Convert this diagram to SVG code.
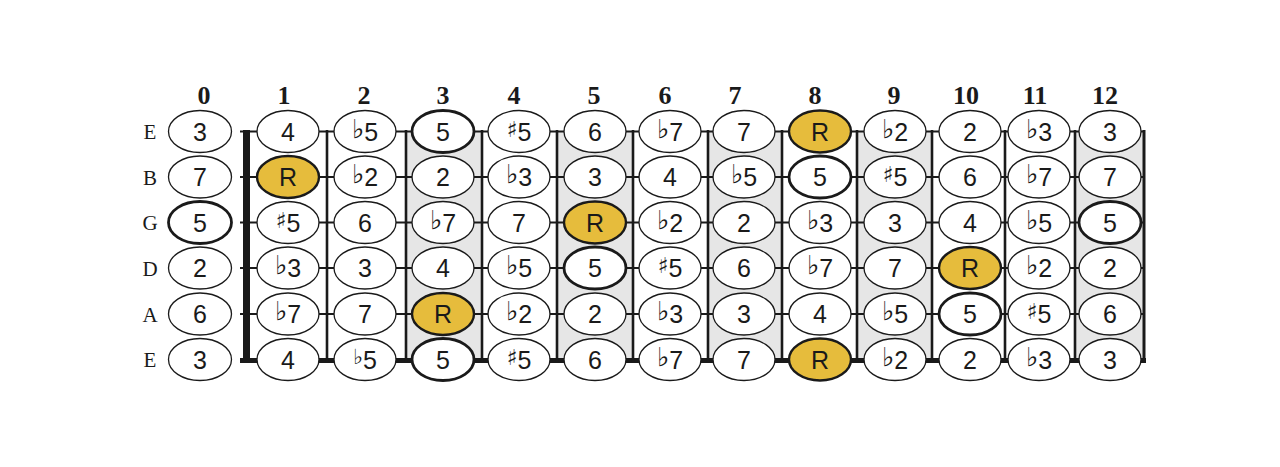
<svg xmlns="http://www.w3.org/2000/svg" width="1280" height="467" viewBox="0 0 1280 467">
<style>
.shade{fill:#e6e6e6}
.fret{stroke:#1a1a1a;stroke-width:2.6}
.str{stroke:#1a1a1a;stroke-width:2}
.n{fill:#fff;stroke:#1a1a1a;stroke-width:1.3}
.b{fill:#fff;stroke:#1a1a1a;stroke-width:2.8}
.r{fill:#e6bc3c;stroke:#1a1a1a;stroke-width:2.4}
.t{font-family:"Liberation Sans",Arial,sans-serif;font-size:25px;fill:#1a1a1a;text-anchor:middle}
.fl{font-family:"DejaVu Sans",sans-serif;font-size:26px}
.sh{font-family:"DejaVu Sans",sans-serif;font-size:22px}
.fn{font-family:"Liberation Serif","Times New Roman",serif;font-weight:bold;font-size:26px;fill:#1a1a1a;text-anchor:middle}
.sl{font-family:"Liberation Serif","Times New Roman",serif;font-size:21px;fill:#1a1a1a;text-anchor:middle}
</style>
<rect width="1280" height="467" fill="#fff"/>
<g id="shading">
<rect class="shade" x="406" y="131" width="76" height="229"/>
<rect class="shade" x="557" y="131" width="76" height="229"/>
<rect class="shade" x="708" y="131" width="74" height="229"/>
<rect class="shade" x="857" y="131" width="75" height="229"/>
<rect class="shade" x="1075" y="131" width="69" height="229"/>
</g>
<g id="connectors">
<line class="str" x1="240" y1="131.5" x2="1144" y2="131.5"/>
<line class="str" x1="240" y1="177" x2="1144" y2="177"/>
<line class="str" x1="240" y1="222.5" x2="1144" y2="222.5"/>
<line class="str" x1="240" y1="268" x2="1144" y2="268"/>
<line class="str" x1="240" y1="314" x2="1144" y2="314"/>
<line class="str" x1="240" y1="360.5" x2="1146" y2="360.5" style="stroke-width:5"/>
<line x1="246.5" y1="130" x2="246.5" y2="363" stroke="#1a1a1a" stroke-width="7"/>
<line class="fret" x1="327" y1="130" x2="327" y2="362"/>
<line class="fret" x1="406" y1="130" x2="406" y2="362"/>
<line class="fret" x1="482" y1="130" x2="482" y2="362"/>
<line class="fret" x1="557" y1="130" x2="557" y2="362"/>
<line class="fret" x1="633" y1="130" x2="633" y2="362"/>
<line class="fret" x1="708" y1="130" x2="708" y2="362"/>
<line class="fret" x1="782" y1="130" x2="782" y2="362"/>
<line class="fret" x1="857" y1="130" x2="857" y2="362"/>
<line class="fret" x1="932" y1="130" x2="932" y2="362"/>
<line class="fret" x1="1005" y1="130" x2="1005" y2="362"/>
<line class="fret" x1="1075" y1="130" x2="1075" y2="362"/>
<line class="fret" x1="1144" y1="130" x2="1144" y2="362" style="stroke-width:3"/>
</g>
<g id="fret-numbers">
<text class="fn" x="204" y="104">0</text>
<text class="fn" x="284" y="104">1</text>
<text class="fn" x="364" y="104">2</text>
<text class="fn" x="443" y="104">3</text>
<text class="fn" x="514" y="104">4</text>
<text class="fn" x="594" y="104">5</text>
<text class="fn" x="665" y="104">6</text>
<text class="fn" x="735" y="104">7</text>
<text class="fn" x="815" y="104">8</text>
<text class="fn" x="894" y="104">9</text>
<text class="fn" x="966" y="104">10</text>
<text class="fn" x="1035" y="104">11</text>
<text class="fn" x="1105" y="104">12</text>
</g>
<g id="string-labels">
<text class="sl" x="150" y="139">E</text>
<text class="sl" x="150" y="184.5">B</text>
<text class="sl" x="150" y="230">G</text>
<text class="sl" x="150" y="275.5">D</text>
<text class="sl" x="150" y="321.5">A</text>
<text class="sl" x="150" y="367">E</text>
</g>
<!-- Row 1: high E, y=131.5 -->
<g id="e1-f0"><ellipse class="n" cx="200" cy="131.5" rx="31.5" ry="21"/><text class="t" x="200" y="140.5">3</text></g>
<g id="e1-f1"><ellipse class="n" cx="288" cy="131.5" rx="31" ry="21"/><text class="t" x="288" y="140.5">4</text></g>
<g id="e1-f2"><ellipse class="n" cx="365" cy="131.5" rx="31" ry="21"/><text class="t" x="365" y="140.5"><tspan class="fl" dy="-3">♭</tspan><tspan dy="3">5</tspan></text></g>
<g id="e1-f3"><ellipse class="b" cx="443" cy="131.5" rx="31" ry="21"/><text class="t" x="443" y="140.5">5</text></g>
<g id="e1-f4"><ellipse class="n" cx="519" cy="131.5" rx="31" ry="21"/><text class="t" x="519" y="140.5"><tspan class="sh" dy="-4">♯</tspan><tspan dy="4">5</tspan></text></g>
<g id="e1-f5"><ellipse class="n" cx="595" cy="131.5" rx="31" ry="21"/><text class="t" x="595" y="140.5">6</text></g>
<g id="e1-f6"><ellipse class="n" cx="670" cy="131.5" rx="31" ry="21"/><text class="t" x="670" y="140.5"><tspan class="fl" dy="-3">♭</tspan><tspan dy="3">7</tspan></text></g>
<g id="e1-f7"><ellipse class="n" cx="744" cy="131.5" rx="31" ry="21"/><text class="t" x="744" y="140.5">7</text></g>
<g id="e1-f8"><ellipse class="r" cx="820" cy="131.5" rx="31" ry="21"/><text class="t" x="820" y="140.5">R</text></g>
<g id="e1-f9"><ellipse class="n" cx="895" cy="131.5" rx="31" ry="21"/><text class="t" x="895" y="140.5"><tspan class="fl" dy="-3">♭</tspan><tspan dy="3">2</tspan></text></g>
<g id="e1-f10"><ellipse class="n" cx="970" cy="131.5" rx="31" ry="21"/><text class="t" x="970" y="140.5">2</text></g>
<g id="e1-f11"><ellipse class="n" cx="1039" cy="131.5" rx="31" ry="21"/><text class="t" x="1039" y="140.5"><tspan class="fl" dy="-3">♭</tspan><tspan dy="3">3</tspan></text></g>
<g id="e1-f12"><ellipse class="n" cx="1110" cy="131.5" rx="31" ry="21"/><text class="t" x="1110" y="140.5">3</text></g>
<!-- Row 2: B, y=177 -->
<g id="b-f0"><ellipse class="n" cx="200" cy="177" rx="31.5" ry="21"/><text class="t" x="200" y="186">7</text></g>
<g id="b-f1"><ellipse class="r" cx="288" cy="177" rx="31" ry="21"/><text class="t" x="288" y="186">R</text></g>
<g id="b-f2"><ellipse class="n" cx="365" cy="177" rx="31" ry="21"/><text class="t" x="365" y="186"><tspan class="fl" dy="-3">♭</tspan><tspan dy="3">2</tspan></text></g>
<g id="b-f3"><ellipse class="n" cx="443" cy="177" rx="31" ry="21"/><text class="t" x="443" y="186">2</text></g>
<g id="b-f4"><ellipse class="n" cx="519" cy="177" rx="31" ry="21"/><text class="t" x="519" y="186"><tspan class="fl" dy="-3">♭</tspan><tspan dy="3">3</tspan></text></g>
<g id="b-f5"><ellipse class="n" cx="595" cy="177" rx="31" ry="21"/><text class="t" x="595" y="186">3</text></g>
<g id="b-f6"><ellipse class="n" cx="670" cy="177" rx="31" ry="21"/><text class="t" x="670" y="186">4</text></g>
<g id="b-f7"><ellipse class="n" cx="744" cy="177" rx="31" ry="21"/><text class="t" x="744" y="186"><tspan class="fl" dy="-3">♭</tspan><tspan dy="3">5</tspan></text></g>
<g id="b-f8"><ellipse class="b" cx="820" cy="177" rx="31" ry="21"/><text class="t" x="820" y="186">5</text></g>
<g id="b-f9"><ellipse class="n" cx="895" cy="177" rx="31" ry="21"/><text class="t" x="895" y="186"><tspan class="sh" dy="-4">♯</tspan><tspan dy="4">5</tspan></text></g>
<g id="b-f10"><ellipse class="n" cx="970" cy="177" rx="31" ry="21"/><text class="t" x="970" y="186">6</text></g>
<g id="b-f11"><ellipse class="n" cx="1039" cy="177" rx="31" ry="21"/><text class="t" x="1039" y="186"><tspan class="fl" dy="-3">♭</tspan><tspan dy="3">7</tspan></text></g>
<g id="b-f12"><ellipse class="n" cx="1110" cy="177" rx="31" ry="21"/><text class="t" x="1110" y="186">7</text></g>
<!-- Row 3: G, y=222.5 -->
<g id="g-f0"><ellipse class="b" cx="200" cy="222.5" rx="31.5" ry="21"/><text class="t" x="200" y="231.5">5</text></g>
<g id="g-f1"><ellipse class="n" cx="288" cy="222.5" rx="31" ry="21"/><text class="t" x="288" y="231.5"><tspan class="sh" dy="-4">♯</tspan><tspan dy="4">5</tspan></text></g>
<g id="g-f2"><ellipse class="n" cx="365" cy="222.5" rx="31" ry="21"/><text class="t" x="365" y="231.5">6</text></g>
<g id="g-f3"><ellipse class="n" cx="443" cy="222.5" rx="31" ry="21"/><text class="t" x="443" y="231.5"><tspan class="fl" dy="-3">♭</tspan><tspan dy="3">7</tspan></text></g>
<g id="g-f4"><ellipse class="n" cx="519" cy="222.5" rx="31" ry="21"/><text class="t" x="519" y="231.5">7</text></g>
<g id="g-f5"><ellipse class="r" cx="595" cy="222.5" rx="31" ry="21"/><text class="t" x="595" y="231.5">R</text></g>
<g id="g-f6"><ellipse class="n" cx="670" cy="222.5" rx="31" ry="21"/><text class="t" x="670" y="231.5"><tspan class="fl" dy="-3">♭</tspan><tspan dy="3">2</tspan></text></g>
<g id="g-f7"><ellipse class="n" cx="744" cy="222.5" rx="31" ry="21"/><text class="t" x="744" y="231.5">2</text></g>
<g id="g-f8"><ellipse class="n" cx="820" cy="222.5" rx="31" ry="21"/><text class="t" x="820" y="231.5"><tspan class="fl" dy="-3">♭</tspan><tspan dy="3">3</tspan></text></g>
<g id="g-f9"><ellipse class="n" cx="895" cy="222.5" rx="31" ry="21"/><text class="t" x="895" y="231.5">3</text></g>
<g id="g-f10"><ellipse class="n" cx="970" cy="222.5" rx="31" ry="21"/><text class="t" x="970" y="231.5">4</text></g>
<g id="g-f11"><ellipse class="n" cx="1039" cy="222.5" rx="31" ry="21"/><text class="t" x="1039" y="231.5"><tspan class="fl" dy="-3">♭</tspan><tspan dy="3">5</tspan></text></g>
<g id="g-f12"><ellipse class="b" cx="1110" cy="222.5" rx="31" ry="21"/><text class="t" x="1110" y="231.5">5</text></g>
<!-- Row 4: D, y=268 -->
<g id="d-f0"><ellipse class="n" cx="200" cy="268" rx="31.5" ry="21"/><text class="t" x="200" y="277">2</text></g>
<g id="d-f1"><ellipse class="n" cx="288" cy="268" rx="31" ry="21"/><text class="t" x="288" y="277"><tspan class="fl" dy="-3">♭</tspan><tspan dy="3">3</tspan></text></g>
<g id="d-f2"><ellipse class="n" cx="365" cy="268" rx="31" ry="21"/><text class="t" x="365" y="277">3</text></g>
<g id="d-f3"><ellipse class="n" cx="443" cy="268" rx="31" ry="21"/><text class="t" x="443" y="277">4</text></g>
<g id="d-f4"><ellipse class="n" cx="519" cy="268" rx="31" ry="21"/><text class="t" x="519" y="277"><tspan class="fl" dy="-3">♭</tspan><tspan dy="3">5</tspan></text></g>
<g id="d-f5"><ellipse class="b" cx="595" cy="268" rx="31" ry="21"/><text class="t" x="595" y="277">5</text></g>
<g id="d-f6"><ellipse class="n" cx="670" cy="268" rx="31" ry="21"/><text class="t" x="670" y="277"><tspan class="sh" dy="-4">♯</tspan><tspan dy="4">5</tspan></text></g>
<g id="d-f7"><ellipse class="n" cx="744" cy="268" rx="31" ry="21"/><text class="t" x="744" y="277">6</text></g>
<g id="d-f8"><ellipse class="n" cx="820" cy="268" rx="31" ry="21"/><text class="t" x="820" y="277"><tspan class="fl" dy="-3">♭</tspan><tspan dy="3">7</tspan></text></g>
<g id="d-f9"><ellipse class="n" cx="895" cy="268" rx="31" ry="21"/><text class="t" x="895" y="277">7</text></g>
<g id="d-f10"><ellipse class="r" cx="970" cy="268" rx="31" ry="21"/><text class="t" x="970" y="277">R</text></g>
<g id="d-f11"><ellipse class="n" cx="1039" cy="268" rx="31" ry="21"/><text class="t" x="1039" y="277"><tspan class="fl" dy="-3">♭</tspan><tspan dy="3">2</tspan></text></g>
<g id="d-f12"><ellipse class="n" cx="1110" cy="268" rx="31" ry="21"/><text class="t" x="1110" y="277">2</text></g>
<!-- Row 5: A, y=314 -->
<g id="a-f0"><ellipse class="n" cx="200" cy="314" rx="31.5" ry="21"/><text class="t" x="200" y="323">6</text></g>
<g id="a-f1"><ellipse class="n" cx="288" cy="314" rx="31" ry="21"/><text class="t" x="288" y="323"><tspan class="fl" dy="-3">♭</tspan><tspan dy="3">7</tspan></text></g>
<g id="a-f2"><ellipse class="n" cx="365" cy="314" rx="31" ry="21"/><text class="t" x="365" y="323">7</text></g>
<g id="a-f3"><ellipse class="r" cx="443" cy="314" rx="31" ry="21"/><text class="t" x="443" y="323">R</text></g>
<g id="a-f4"><ellipse class="n" cx="519" cy="314" rx="31" ry="21"/><text class="t" x="519" y="323"><tspan class="fl" dy="-3">♭</tspan><tspan dy="3">2</tspan></text></g>
<g id="a-f5"><ellipse class="n" cx="595" cy="314" rx="31" ry="21"/><text class="t" x="595" y="323">2</text></g>
<g id="a-f6"><ellipse class="n" cx="670" cy="314" rx="31" ry="21"/><text class="t" x="670" y="323"><tspan class="fl" dy="-3">♭</tspan><tspan dy="3">3</tspan></text></g>
<g id="a-f7"><ellipse class="n" cx="744" cy="314" rx="31" ry="21"/><text class="t" x="744" y="323">3</text></g>
<g id="a-f8"><ellipse class="n" cx="820" cy="314" rx="31" ry="21"/><text class="t" x="820" y="323">4</text></g>
<g id="a-f9"><ellipse class="n" cx="895" cy="314" rx="31" ry="21"/><text class="t" x="895" y="323"><tspan class="fl" dy="-3">♭</tspan><tspan dy="3">5</tspan></text></g>
<g id="a-f10"><ellipse class="b" cx="970" cy="314" rx="31" ry="21"/><text class="t" x="970" y="323">5</text></g>
<g id="a-f11"><ellipse class="n" cx="1039" cy="314" rx="31" ry="21"/><text class="t" x="1039" y="323"><tspan class="sh" dy="-4">♯</tspan><tspan dy="4">5</tspan></text></g>
<g id="a-f12"><ellipse class="n" cx="1110" cy="314" rx="31" ry="21"/><text class="t" x="1110" y="323">6</text></g>
<!-- Row 6: low E, y=359.5 -->
<g id="e6-f0"><ellipse class="n" cx="200" cy="359.5" rx="31.5" ry="21"/><text class="t" x="200" y="368.5">3</text></g>
<g id="e6-f1"><ellipse class="n" cx="288" cy="359.5" rx="31" ry="21"/><text class="t" x="288" y="368.5">4</text></g>
<g id="e6-f2"><ellipse class="n" cx="365" cy="359.5" rx="31" ry="21"/><text class="t" x="365" y="368.5"><tspan class="fl" dy="-5" style="font-size:21px">♭</tspan><tspan dy="5">5</tspan></text></g>
<g id="e6-f3"><ellipse class="b" cx="443" cy="359.5" rx="31" ry="21"/><text class="t" x="443" y="368.5">5</text></g>
<g id="e6-f4"><ellipse class="n" cx="519" cy="359.5" rx="31" ry="21"/><text class="t" x="519" y="368.5"><tspan class="sh" dy="-4">♯</tspan><tspan dy="4">5</tspan></text></g>
<g id="e6-f5"><ellipse class="n" cx="595" cy="359.5" rx="31" ry="21"/><text class="t" x="595" y="368.5">6</text></g>
<g id="e6-f6"><ellipse class="n" cx="670" cy="359.5" rx="31" ry="21"/><text class="t" x="670" y="368.5"><tspan class="fl" dy="-3">♭</tspan><tspan dy="3">7</tspan></text></g>
<g id="e6-f7"><ellipse class="n" cx="744" cy="359.5" rx="31" ry="21"/><text class="t" x="744" y="368.5">7</text></g>
<g id="e6-f8"><ellipse class="r" cx="820" cy="359.5" rx="31" ry="21"/><text class="t" x="820" y="368.5">R</text></g>
<g id="e6-f9"><ellipse class="n" cx="895" cy="359.5" rx="31" ry="21"/><text class="t" x="895" y="368.5"><tspan class="fl" dy="-3">♭</tspan><tspan dy="3">2</tspan></text></g>
<g id="e6-f10"><ellipse class="n" cx="970" cy="359.5" rx="31" ry="21"/><text class="t" x="970" y="368.5">2</text></g>
<g id="e6-f11"><ellipse class="n" cx="1039" cy="359.5" rx="31" ry="21"/><text class="t" x="1039" y="368.5"><tspan class="fl" dy="-3">♭</tspan><tspan dy="3">3</tspan></text></g>
<g id="e6-f12"><ellipse class="n" cx="1110" cy="359.5" rx="31" ry="21"/><text class="t" x="1110" y="368.5">3</text></g>
</svg>
